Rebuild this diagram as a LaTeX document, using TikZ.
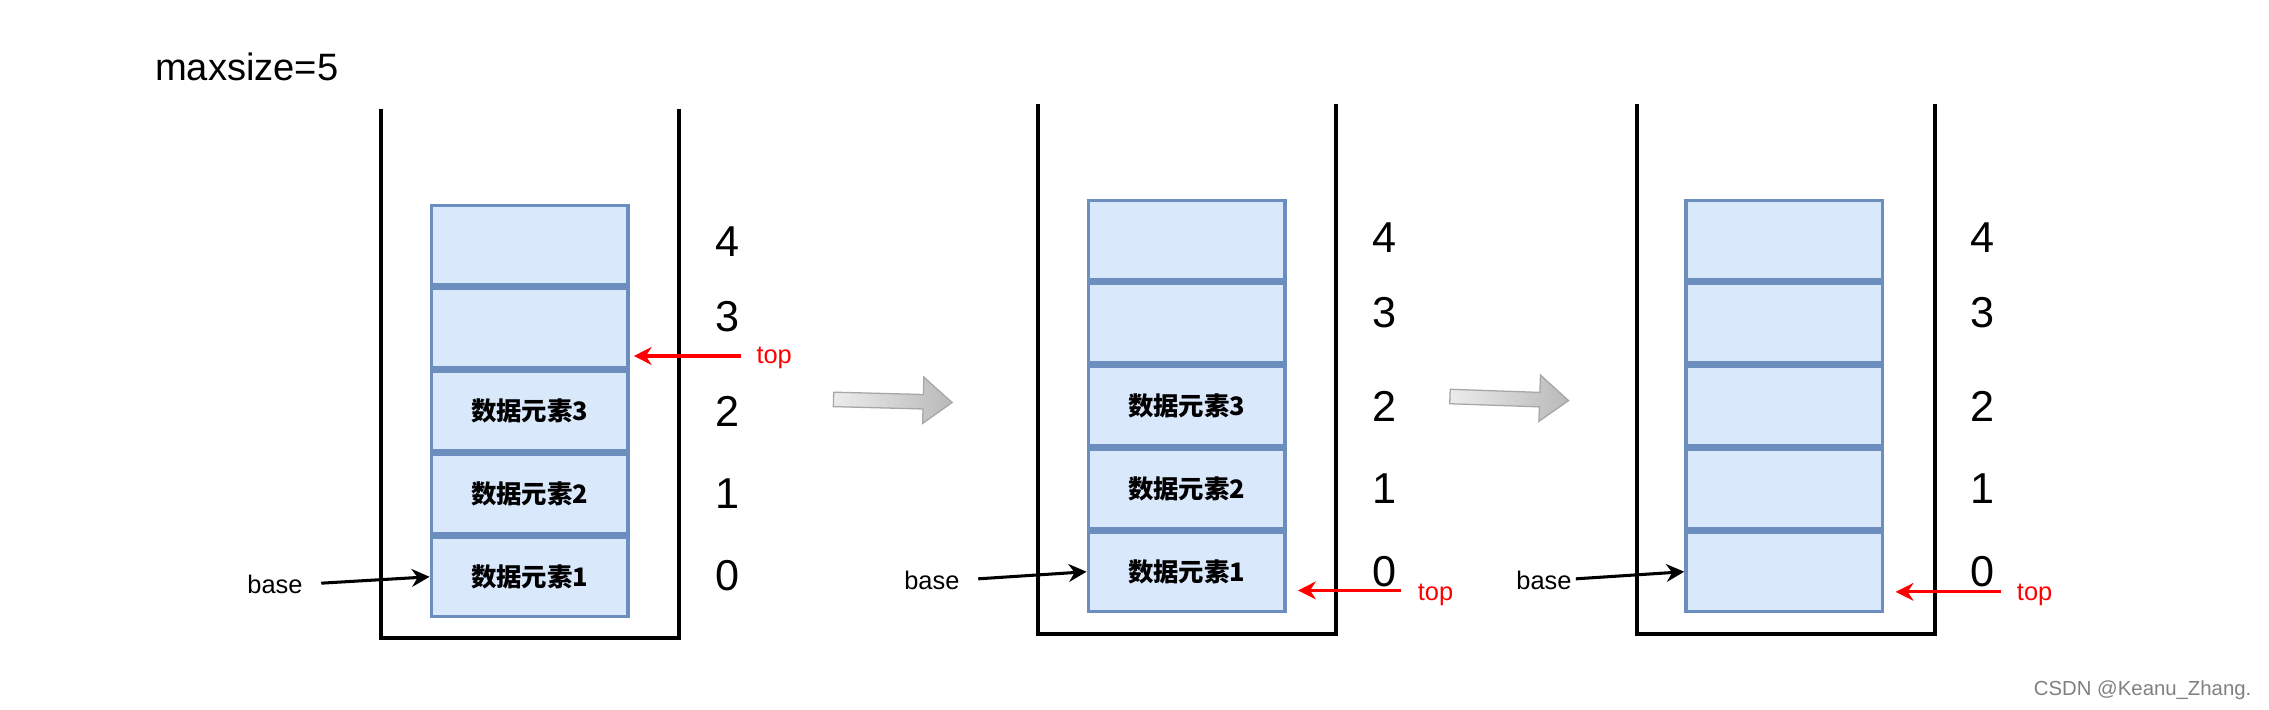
\documentclass[tikz,border=0pt]{standalone}
\usepackage{fontspec}
\setmainfont{Liberation Sans}
\newfontfamily\cjk{Noto Sans CJK SC}
\usetikzlibrary{arrows.meta}
\definecolor{cellfill}{HTML}{DAE8FC}
\definecolor{celldraw}{HTML}{6C8EBF}
\tikzset{
 cell/.style={draw=celldraw,fill=cellfill,line width=1.3pt,minimum width=2.72cm,minimum height=1.1cm,inner sep=0pt,font=\cjk\bfseries\fontsize{10}{10}\selectfont},
 wall/.style={line width=1.6pt,black},
 idx/.style={font=\fontsize{17}{17}\selectfont},
 lab/.style={font=\fontsize{10}{10}\selectfont},
 ptr/.style={-{Stealth[length=7pt,width=7pt]},line width=1.2pt},
 gray arrow/.style={draw=gray!70,line width=0.5pt,left color=gray!15,right color=gray!55}
}
\begin{document}
\begin{tikzpicture}[x=0.02cm,y=-0.02cm]
\useasboundingbox (0,0) rectangle (1568,490);
\node[anchor=west,font=\fontsize{15}{15}\selectfont] (title) at (101,46) {maxsize=5};
% stack template via loop
\foreach \s/\L/\R/\T/\B/\cx/\ct/\nx in {1/263/469/75/441/366/141/503, 2/717/923/72/438/820/137/957, 3/1131/1337/72/438/1233/137/1370}{
  \draw[wall] (\L,\T) -- (\L,\B) -- (\R,\B) -- (\R,\T);
}
% stack 1
\node[cell] (a4) at (366,169.5) {};
\node[cell,anchor=north] (a3) at (a4.south) {};
\node[cell,anchor=north] (a2) at (a3.south) {数据元素3};
\node[cell,anchor=north] (a1) at (a2.south) {数据元素2};
\node[cell,anchor=north] (a0) at (a1.south) {数据元素1};
\foreach \i/\y in {4/167,3/219,2/284,1/341,0/398}{\node[idx] (ai\i) at (503,\y) {\i};}
\node[lab] (abase) at (190,404) {base};
\coordinate (abs) at (222,403);
\draw[ptr] (abs) -- (a0.west);
\node[lab,text=red] (atop) at (535,247) {top};
\coordinate (ats) at (512,246);
\coordinate (ate) at (438,246);
\draw[ptr,red] (ats) -- (ate);
% gray arrow 1
\begin{scope}[shift={(576,276)},rotate=-1.5]
\path[gray arrow] (0,-5) -- (62,-5) -- (62,-17) -- (82,0) -- (62,15) -- (62,5) -- (0,5) -- cycle;
\end{scope}
% stack 2
\node[cell] (b4) at (820,166) {};
\node[cell,anchor=north] (b3) at (b4.south) {};
\node[cell,anchor=north] (b2) at (b3.south) {数据元素3};
\node[cell,anchor=north] (b1) at (b2.south) {数据元素2};
\node[cell,anchor=north] (b0) at (b1.south) {数据元素1};
\foreach \i/\y in {4/164,3/216,2/281,1/338,0/395}{\node[idx] (bi\i) at (957,\y) {\i};}
\node[lab] (bbase) at (644,401) {base};
\coordinate (bbs) at (676,400);
\draw[ptr] (bbs) -- (b0.west);
\node[lab,text=red] (btop) at (992,411) {top};
\coordinate (bts) at (968,408);
\coordinate (bte) at (897,408);
\draw[ptr,red] (bts) -- (bte);
% gray arrow 2
\begin{scope}[shift={(1002,274)},rotate=-2]
\path[gray arrow] (0,-5) -- (62,-5) -- (62,-17) -- (82,0) -- (62,15) -- (62,5) -- (0,5) -- cycle;
\end{scope}
% stack 3
\node[cell] (c4) at (1233,166) {};
\node[cell,anchor=north] (c3) at (c4.south) {};
\node[cell,anchor=north] (c2) at (c3.south) {};
\node[cell,anchor=north] (c1) at (c2.south) {};
\node[cell,anchor=north] (c0) at (c1.south) {};
\foreach \i/\y in {4/164,3/216,2/281,1/338,0/395}{\node[idx] (ci\i) at (1370,\y) {\i};}
\node[lab] (cbase) at (1067,401) {base};
\coordinate (cbs) at (1089,400);
\draw[ptr] (cbs) -- (c0.west);
\node[lab,text=red] (ctop) at (1406,411) {top};
\coordinate (cts) at (1383,409);
\coordinate (cte) at (1310,409);
\draw[ptr,red] (cts) -- (cte);
\node[anchor=east,text=gray,font=\fontsize{8}{8}\selectfont] (wm) at (1562,477) {CSDN @Keanu\_Zhang.};
\end{tikzpicture}
\end{document}
